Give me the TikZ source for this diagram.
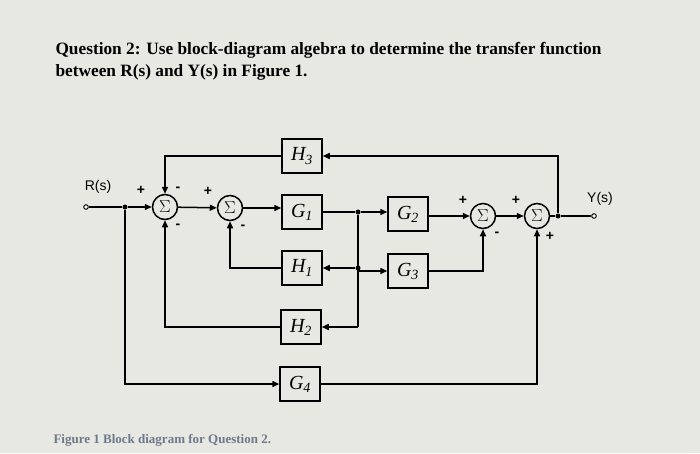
\documentclass[tikz,border=0pt]{standalone}
\usepackage{fontspec}
\setmainfont{Liberation Serif}
\newfontfamily\lsans{Liberation Sans}
\usetikzlibrary{arrows.meta}
\begin{document}
\begin{tikzpicture}[x=1pt,y=-1pt,
  blk/.style={draw,line width=1.5pt,minimum width=40pt,minimum height=34pt,font=\fontsize{20}{20}\selectfont\itshape,inner sep=0pt},
  sum/.style={draw,circle,line width=1.5pt,minimum size=25pt,inner sep=0pt,font=\fontsize{16}{16}\selectfont},
  dot/.style={circle,fill,inner sep=0pt,minimum size=5pt},
  term/.style={circle,draw,line width=1pt,fill=white,inner sep=0pt,minimum size=4.5pt},
  sig/.style={font=\lsans\bfseries\fontsize{14}{14}\selectfont},
  lab/.style={font=\lsans\fontsize{14}{14}\selectfont},
  ln/.style={line width=1.5pt},
  ar/.style={line width=1.5pt,-{Triangle[length=7pt,width=6pt]}}]
\useasboundingbox[fill={rgb,255:red,232;green,232;blue,226}] (0,0) rectangle (700,453);
\node[anchor=west,font=\fontsize{17.3}{17.3}\selectfont] (t1) at (52,50) {\textbf{Question 2:} \textbf{Use block-diagram algebra to determine the transfer function}};
\node[anchor=west,font=\fontsize{17.3}{17.3}\selectfont] (t2) at (52,72) {\textbf{between R(s) and Y(s) in Figure 1.}};
\node[anchor=west,font=\fontsize{13}{13}\selectfont\bfseries,text={rgb,255:red,110;green,120;blue,140}] (cap) at (50,440) {Figure 1 Block diagram for Question 2.};
% nodes
\node[term] (R) at (86,207) {};
\node[lab] (Rl) at (98,187) {R(s)};
\node[dot] (d0) at (125,207) {};
\node[sum] (s1) at (165,207) {$\Sigma$};
\node[sum] (s2) at (230,208) {$\Sigma$};
\node[blk] (G1) at (302,212) {G\textsubscript{1}};
\node[blk] (H3) at (302,156) {H\textsubscript{3}};
\node[blk] (H1) at (302,268) {H\textsubscript{1}};
\node[blk] (H2) at (301,327) {H\textsubscript{2}};
\node[blk] (G4) at (300,384) {G\textsubscript{4}};
\node[blk] (G2) at (408,214) {G\textsubscript{2}};
\node[blk] (G3) at (408,271) {G\textsubscript{3}};
\node[dot] (da) at (358,212) {};
\node[dot] (db) at (358,268) {};
\coordinate (dbr) at (358,271);
\coordinate (dc) at (358,327);
\node[sum] (s3) at (483,216) {$\Sigma$};
\node[sum] (s4) at (537,216) {$\Sigma$};
\node[dot] (dy) at (558,216) {};
\node[term] (Y) at (594,216) {};
\node[lab] (Yl) at (600,199) {Y(s)};
% signs
\node[sig] at (141,190) {+};
\node[sig] at (178,189) {-};
\node[sig] at (178,226) {-};
\node[sig] at (208,191) {+};
\node[sig] at (243,227) {-};
\node[sig] at (463,200) {+};
\node[sig] at (497,234) {-};
\node[sig] at (516,200) {+};
\node[sig] at (550,236) {+};
% connectors
\draw[ln] (R) -- (d0);
\draw[ar] (d0) -- (s1);
\draw[ar] (s1) -- (s2);
\draw[ar] (s2) -- (s2 -| G1.west);
\draw[ln] (G1.east |- da) -- (da);
\draw[ar] (da) -- (da -| G2.west);
\draw[ln] (da) -- (dc);
\draw[ar] (db) -- (H1.east);
\draw[ar] (dbr) -- (dbr -| G3.west);
\draw[ar] (dc) -- (H2.east);
\draw[ar] (H1.west) -| (s2.south);
\draw[ar] (H2.west) -| (s1.south);
\draw[ar] (H3.west) -| (s1.north);
\draw[ar] (d0) |- (G4.west);
\draw[ar] (G2.east |- s3) -- (s3);
\draw[ar] (G3.east) -| (s3.south);
\draw[ar] (s3) -- (s4);
\draw[ar] (G4.east) -| (s4.south);
\draw[ln] (s4) -- (dy);
\draw[ln] (dy) -- (Y);
\draw[ar] (dy) |- (H3.east);
\end{tikzpicture}
\end{document}
